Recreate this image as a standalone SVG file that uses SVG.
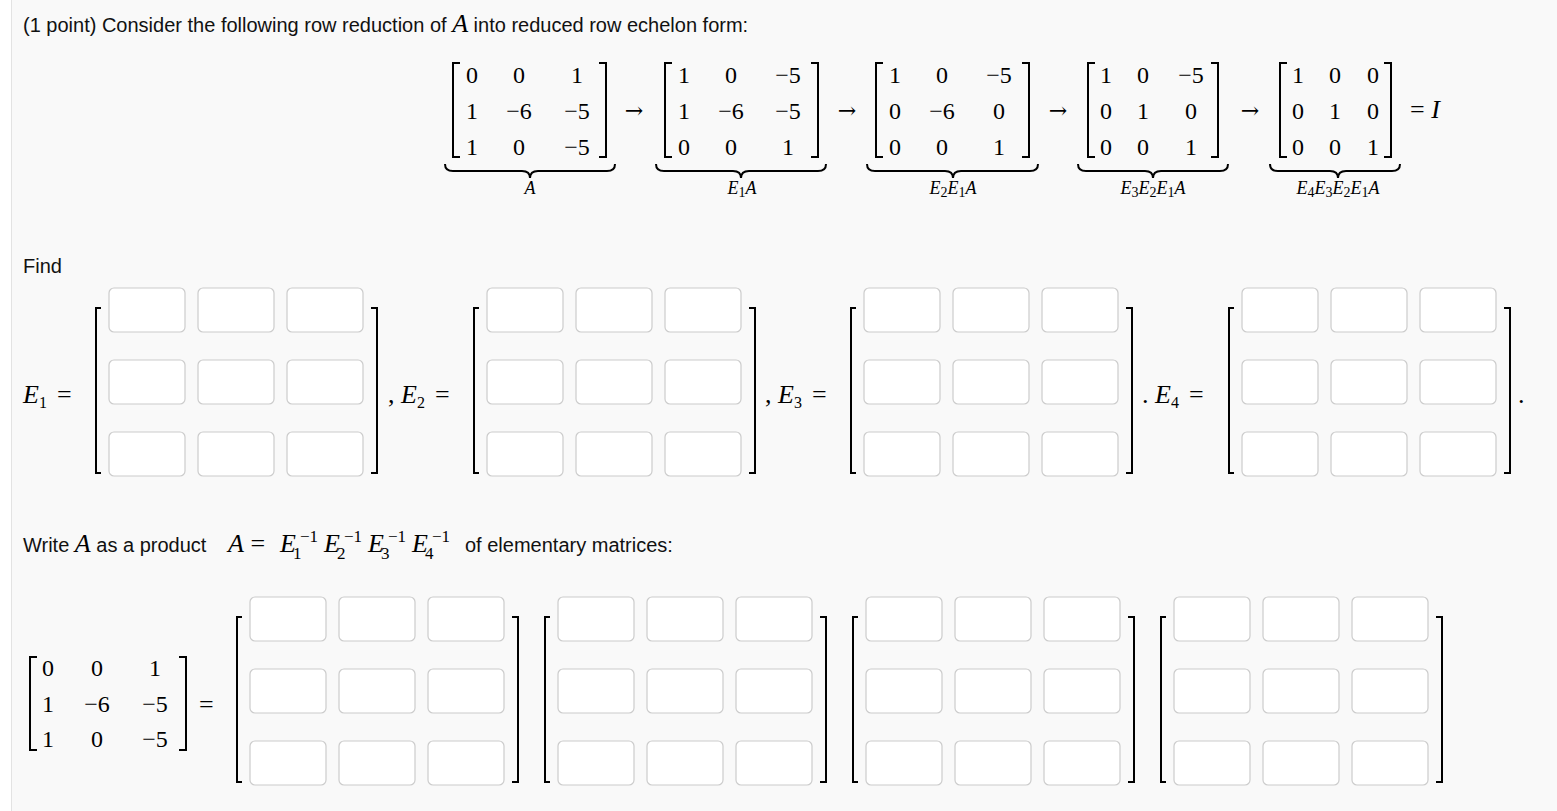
<svg xmlns="http://www.w3.org/2000/svg" xmlns:xlink="http://www.w3.org/1999/xlink" width="1557" height="811" viewBox="0 0 1557 811">
<style>
.t{font-family:"Liberation Sans",Arial,sans-serif;font-size:20px;fill:#111}
.m{font-family:"Liberation Serif","DejaVu Serif",serif;font-size:24px;fill:#000;text-anchor:middle}
.i{font-style:italic}
.l{font-family:"Liberation Serif","DejaVu Serif",serif;font-size:18px;font-style:italic;text-anchor:middle}
.s{font-style:normal;font-size:14px}
.b{fill:none;stroke:#000;stroke-width:2}
.bx{fill:#fff;stroke:#ccc;stroke-width:1.2}
.e{font-family:"Liberation Serif","DejaVu Serif",serif;font-size:26px;fill:#000}
.a{font-family:"DejaVu Serif",serif;font-size:22px;text-anchor:middle}
.sp{font-family:"Liberation Serif","DejaVu Serif",serif;font-size:17px}
</style>
<defs>
<g id="grid">
<rect class="bx" x="0" y="0" width="76" height="44" rx="5"/><rect class="bx" x="89" y="0" width="76" height="44" rx="5"/><rect class="bx" x="178" y="0" width="76" height="44" rx="5"/>
<rect class="bx" x="0" y="72" width="76" height="44" rx="5"/><rect class="bx" x="89" y="72" width="76" height="44" rx="5"/><rect class="bx" x="178" y="72" width="76" height="44" rx="5"/>
<rect class="bx" x="0" y="144" width="76" height="44" rx="5"/><rect class="bx" x="89" y="144" width="76" height="44" rx="5"/><rect class="bx" x="178" y="144" width="76" height="44" rx="5"/>
<path class="b" d="M-8,20 H-13 V185 H-8 M262,20 H268 V185 H262"/>
</g>
</defs>
<rect width="1557" height="811" fill="#fff"/>
<rect x="12" y="0" width="1545" height="811" fill="#f9f9f9"/>
<line x1="11.5" y1="0" x2="11.5" y2="811" stroke="#e3e3e3"/>
<text class="t" x="23" y="32">(1 point) Consider the following row reduction of <tspan class="e i" font-size="24">A</tspan> into reduced row echelon form:</text>

<g id="top">
<path class="b" d="M460,63 H453 V157 H460 M599,63 H606 V157 H599"/>
<text class="m" y="83"><tspan x="472">0</tspan><tspan x="519">0</tspan><tspan x="577">1</tspan></text>
<text class="m" y="119"><tspan x="472">1</tspan><tspan x="519">−6</tspan><tspan x="577">−5</tspan></text>
<text class="m" y="155"><tspan x="472">1</tspan><tspan x="519">0</tspan><tspan x="577">−5</tspan></text>
<path class="b" d="M445,164 q0,7 8,7 H522 q8,0 8,7 q0,-7 8,-7 H607 q8,0 8,-7"/>
<text class="l" x="530" y="194">A</text>
<text class="a" x="634" y="118">→</text>

<path class="b" d="M672,63 H665 V157 H672 M811,63 H818 V157 H811"/>
<text class="m" y="83"><tspan x="684">1</tspan><tspan x="731">0</tspan><tspan x="788">−5</tspan></text>
<text class="m" y="119"><tspan x="684">1</tspan><tspan x="731">−6</tspan><tspan x="788">−5</tspan></text>
<text class="m" y="155"><tspan x="684">0</tspan><tspan x="731">0</tspan><tspan x="788">1</tspan></text>
<path class="b" d="M656,164 q0,7 8,7 H733 q8,0 8,7 q0,-7 8,-7 H818 q8,0 8,-7"/>
<text class="l" x="742" y="194">E<tspan class="s" dy="3">1</tspan><tspan dy="-3">A</tspan></text>
<text class="a" x="847" y="118">→</text>

<path class="b" d="M883,63 H876 V157 H883 M1022,63 H1029 V157 H1022"/>
<text class="m" y="83"><tspan x="895">1</tspan><tspan x="942">0</tspan><tspan x="999">−5</tspan></text>
<text class="m" y="119"><tspan x="895">0</tspan><tspan x="942">−6</tspan><tspan x="999">0</tspan></text>
<text class="m" y="155"><tspan x="895">0</tspan><tspan x="942">0</tspan><tspan x="999">1</tspan></text>
<path class="b" d="M867,164 q0,7 8,7 H945 q8,0 8,7 q0,-7 8,-7 H1030 q8,0 8,-7"/>
<text class="l" x="953" y="194">E<tspan class="s" dy="3">2</tspan><tspan dy="-3">E</tspan><tspan class="s" dy="3">1</tspan><tspan dy="-3">A</tspan></text>
<text class="a" x="1058" y="118">→</text>

<path class="b" d="M1095,63 H1088 V157 H1095 M1211,63 H1218 V157 H1211"/>
<text class="m" y="83"><tspan x="1106">1</tspan><tspan x="1143">0</tspan><tspan x="1191">−5</tspan></text>
<text class="m" y="119"><tspan x="1106">0</tspan><tspan x="1143">1</tspan><tspan x="1191">0</tspan></text>
<text class="m" y="155"><tspan x="1106">0</tspan><tspan x="1143">0</tspan><tspan x="1191">1</tspan></text>
<path class="b" d="M1078,164 q0,7 8,7 H1145 q8,0 8,7 q0,-7 8,-7 H1220 q8,0 8,-7"/>
<text class="l" x="1153" y="194">E<tspan class="s" dy="3">3</tspan><tspan dy="-3">E</tspan><tspan class="s" dy="3">2</tspan><tspan dy="-3">E</tspan><tspan class="s" dy="3">1</tspan><tspan dy="-3">A</tspan></text>
<text class="a" x="1250" y="118">→</text>

<path class="b" d="M1287,63 H1280 V157 H1287 M1384,63 H1391 V157 H1384"/>
<text class="m" y="83"><tspan x="1298">1</tspan><tspan x="1335">0</tspan><tspan x="1373">0</tspan></text>
<text class="m" y="119"><tspan x="1298">0</tspan><tspan x="1335">1</tspan><tspan x="1373">0</tspan></text>
<text class="m" y="155"><tspan x="1298">0</tspan><tspan x="1335">0</tspan><tspan x="1373">1</tspan></text>
<path class="b" d="M1270,164 q0,7 8,7 H1330 q8,0 8,7 q0,-7 8,-7 H1392 q8,0 8,-7"/>
<text class="l" x="1338" y="194">E<tspan class="s" dy="3">4</tspan><tspan dy="-3">E</tspan><tspan class="s" dy="3">3</tspan><tspan dy="-3">E</tspan><tspan class="s" dy="3">2</tspan><tspan dy="-3">E</tspan><tspan class="s" dy="3">1</tspan><tspan dy="-3">A</tspan></text>
<text class="e" x="1410" y="118" font-size="27">= <tspan class="i">I</tspan></text>
</g>

<text class="t" x="23" y="273">Find</text>

<g id="find">
<text class="e" x="23" y="403"><tspan class="i">E</tspan><tspan font-size="16" dy="5">1</tspan><tspan dy="-5" dx="10">=</tspan></text>
<use xlink:href="#grid" x="109" y="288"/>
<text class="e" x="388" y="403">, <tspan class="i">E</tspan><tspan font-size="16" dy="5">2</tspan><tspan dy="-5" dx="10">=</tspan></text>
<use xlink:href="#grid" x="487" y="288"/>
<text class="e" x="765" y="403">, <tspan class="i">E</tspan><tspan font-size="16" dy="5">3</tspan><tspan dy="-5" dx="10">=</tspan></text>
<use xlink:href="#grid" x="864" y="288"/>
<text class="e" x="1142" y="403">. <tspan class="i">E</tspan><tspan font-size="16" dy="5">4</tspan><tspan dy="-5" dx="10">=</tspan></text>
<use xlink:href="#grid" x="1242" y="288"/>
<text class="e" x="1518" y="403">.</text>
</g>

<g id="write">
<text class="t" x="23" y="552">Write <tspan class="e i" font-size="25">A</tspan> as a product</text>
<text class="e" x="228" y="552"><tspan class="i">A</tspan> =</text>
<text class="e i" x="280" y="552">E</text><text class="sp" x="293" y="559">1</text><text class="sp" x="300" y="542">−1</text>
<text class="e i" x="324" y="552">E</text><text class="sp" x="337" y="559">2</text><text class="sp" x="344" y="542">−1</text>
<text class="e i" x="368" y="552">E</text><text class="sp" x="381" y="559">3</text><text class="sp" x="388" y="542">−1</text>
<text class="e i" x="412" y="552">E</text><text class="sp" x="425" y="559">4</text><text class="sp" x="432" y="542">−1</text>
<text class="t" x="465" y="552">of elementary matrices:</text>
</g>

<g id="product">
<path class="b" d="M37,657 H30 V750 H37 M179,657 H186 V750 H179"/>
<text class="m" y="676"><tspan x="48">0</tspan><tspan x="97">0</tspan><tspan x="155">1</tspan></text>
<text class="m" y="712"><tspan x="48">1</tspan><tspan x="97">−6</tspan><tspan x="155">−5</tspan></text>
<text class="m" y="747"><tspan x="48">1</tspan><tspan x="97">0</tspan><tspan x="155">−5</tspan></text>
<text class="e" x="199" y="713">=</text>
<use xlink:href="#grid" x="250" y="597"/>
<use xlink:href="#grid" x="558" y="597"/>
<use xlink:href="#grid" x="866" y="597"/>
<use xlink:href="#grid" x="1174" y="597"/>
</g>
</svg>
